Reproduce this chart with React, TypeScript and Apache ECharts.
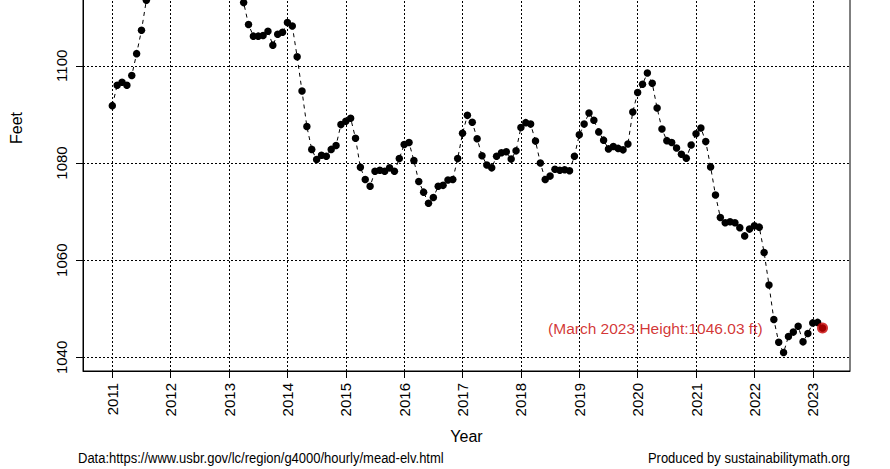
import React, { useEffect, useRef } from "react";
import * as echarts from "echarts";

// Lake Mead monthly elevation (feet), January 2011 to March 2023
const startYear = 2011;
const lev2011 = [1091.8, 1096.0, 1096.6, 1096.0, 1098.0, 1102.5, 1107.3, 1113.5, 1117.5, 1120.8, 1124.5, 1129.0];
const lev2012 = [1133.0, 1133.8, 1132.0, 1128.8, 1124.5, 1120.8, 1117.2, 1115.8, 1116.3, 1117.6, 1118.6, 1120.0];
const lev2013 = [1121.2, 1120.3, 1117.8, 1113.0, 1108.5, 1106.1, 1106.1, 1106.25, 1107.1, 1104.25, 1106.5, 1106.9];
const lev2014 = [1108.9, 1108.2, 1101.85, 1094.8, 1087.5, 1082.8, 1080.7, 1081.6, 1081.4, 1082.8, 1083.6, 1087.9];
const lev2015 = [1088.6, 1089.2, 1085.1, 1079.1, 1076.6, 1075.2, 1078.3, 1078.5, 1078.3, 1079.0, 1078.3, 1080.9];
const lev2016 = [1083.8, 1084.2, 1080.5, 1076.2, 1074.0, 1071.7, 1072.9, 1075.2, 1075.4, 1076.5, 1076.6, 1080.9];
const lev2017 = [1086.1, 1089.8, 1088.4, 1085.0, 1081.5, 1079.6, 1079.0, 1081.4, 1082.1, 1082.3, 1080.8, 1082.5];
const lev2018 = [1087.3, 1088.3, 1088.0, 1084.5, 1080.0, 1076.6, 1077.3, 1078.7, 1078.5, 1078.6, 1078.4, 1081.4];
const lev2019 = [1085.8, 1088.0, 1090.3, 1088.8, 1086.4, 1084.7, 1082.9, 1083.4, 1083.0, 1082.7, 1083.9, 1090.5];
const lev2020 = [1094.5, 1096.2, 1098.5, 1096.4, 1091.3, 1087.0, 1084.6, 1084.2, 1083.1, 1081.8, 1081.0, 1083.7];
const lev2021 = [1086.0, 1087.2, 1084.4, 1079.2, 1073.4, 1068.8, 1067.7, 1067.9, 1067.7, 1066.7, 1065.0, 1066.4];
const lev2022 = [1067.1, 1066.8, 1061.6, 1054.9, 1047.8, 1043.1, 1041.0, 1044.3, 1045.2, 1046.4, 1043.2, 1044.9];
const lev2023 = [1047.1, 1047.2, 1046.03];

const levels = [
  ...lev2011, ...lev2012, ...lev2013, ...lev2014, ...lev2015, ...lev2016, ...lev2017,
  ...lev2018, ...lev2019, ...lev2020, ...lev2021, ...lev2022, ...lev2023,
];

const yearTicks = [2011, 2012, 2013, 2014, 2015, 2016, 2017, 2018, 2019, 2020, 2021, 2022, 2023];
const feetTicks = [1040, 1060, 1080, 1100];
const xRange = [2010.498, 2023.638];
const yRange = [1037.2, 1137.2];

const currentLabel = "(March 2023 Height:1046.03 ft)";
const xTitle = "Year";
const yTitle = "Feet";
const sourceNote = "Data:https://www.usbr.gov/lc/region/g4000/hourly/mead-elv.html";
const creditNote = "Produced by sustainabilitymath.org";

const FONT = "'Liberation Sans', Arial, Helvetica, sans-serif";
const RED = "#c80000";
// The reference is cropped: the top of the plot lies above the picture.
const HIDDEN_TOP = 115;

export default function App() {
  const ref = useRef<HTMLDivElement>(null);

  useEffect(() => {
    if (!ref.current) return;
    const chart = echarts.init(ref.current, null, { renderer: "svg" });
    const points = levels.map((v, i) => [startYear + i / 12, v]);
    const last = points[points.length - 1];
    const annot = [last[0] - 1, last[1]];

    chart.setOption({
      animation: false,
      backgroundColor: "#ffffff",
      grid: {
        left: 78,
        right: 40,
        top: 0,
        bottom: 98,
        show: true,
        borderColor: "#000",
        borderWidth: 1,
        backgroundColor: "transparent",
      },
      xAxis: {
        type: "value",
        min: xRange[0],
        max: xRange[1],
        name: xTitle,
        nameLocation: "middle",
        nameGap: 57,
        nameTextStyle: { fontSize: 16, color: "#000", fontFamily: FONT },
        axisLine: { show: true, lineStyle: { color: "#000", width: 1 } },
        axisTick: { show: true, length: 7, customValues: yearTicks, lineStyle: { color: "#000" } },
        axisLabel: {
          customValues: yearTicks,
          rotate: 90,
          margin: 12,
          fontSize: 15,
          color: "#000",
          fontFamily: FONT,
          formatter: (v: number) => String(Math.round(v)),
        },
        splitLine: { show: true, lineStyle: { color: "#000", width: 1, type: [2, 2] } },
      },
      yAxis: {
        type: "value",
        min: yRange[0],
        max: yRange[1],
        name: yTitle,
        nameLocation: "middle",
        nameGap: 59,
        nameTextStyle: { fontSize: 16, color: "#000", fontFamily: FONT },
        axisLine: { show: true, lineStyle: { color: "#000", width: 1 } },
        axisTick: { show: true, length: 7, customValues: feetTicks, lineStyle: { color: "#000" } },
        axisLabel: {
          customValues: feetTicks,
          rotate: 90,
          margin: 14,
          fontSize: 15,
          color: "#000",
          fontFamily: FONT,
          formatter: (v: number) => String(Math.round(v)),
        },
        splitLine: { show: true, lineStyle: { color: "#000", width: 1, type: [2, 2] } },
      },
      series: [
        {
          type: "line",
          data: points,
          symbol: "circle",
          symbolSize: 7.5,
          showAllSymbol: true,
          itemStyle: { color: "#000" },
          lineStyle: { color: "#000", width: 1, type: [4, 4] },
          z: 3,
        },
        {
          type: "scatter",
          data: [last],
          symbol: "circle",
          symbolSize: 11,
          itemStyle: { color: RED },
          z: 4,
        },
        {
          type: "scatter",
          data: [annot],
          symbol: "circle",
          symbolSize: 1,
          itemStyle: { color: "rgba(0,0,0,0)" },
          label: {
            show: true,
            position: "left",
            distance: 1,
            formatter: currentLabel,
            color: RED,
            fontSize: 15.5,
            fontFamily: FONT,
          },
          z: 4,
        },
      ],
      graphic: [
        {
          type: "text",
          x: 78,
          y: 458 + HIDDEN_TOP,
          scaleX: 0.867,
          style: { text: sourceNote, fontSize: 15, fontFamily: FONT, fill: "#000", align: "left", verticalAlign: "middle" },
        },
        {
          type: "text",
          x: 850,
          y: 458 + HIDDEN_TOP,
          scaleX: 0.867,
          style: { text: creditNote, fontSize: 15, fontFamily: FONT, fill: "#000", align: "right", verticalAlign: "middle" },
        },
      ],
    });

    return () => chart.dispose();
  }, []);

  return (
    <div style={{ position: "absolute", left: 0, top: 0, width: 890, height: 469, overflow: "hidden", background: "#fff" }}>
      <div
        ref={ref}
        style={{ position: "absolute", left: 0, top: -HIDDEN_TOP, width: 890, height: 469 + HIDDEN_TOP }}
      />
    </div>
  );
}
